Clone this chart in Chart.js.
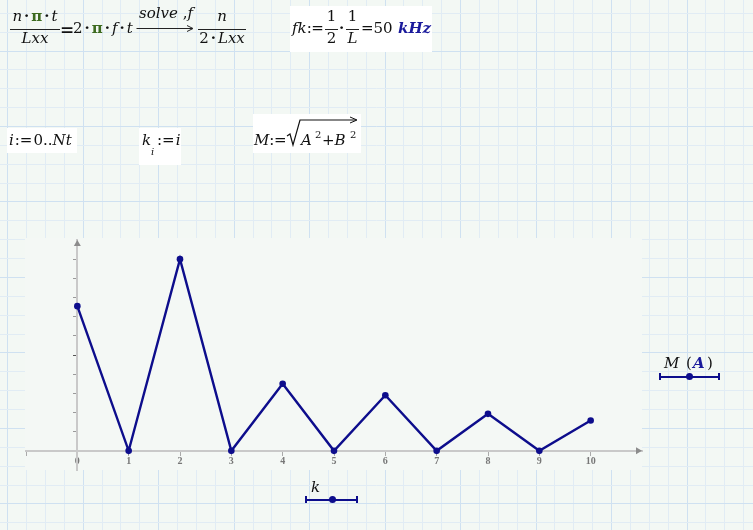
<!DOCTYPE html>
<html>
<head>
<meta charset="utf-8">
<script src="https://cdn.jsdelivr.net/npm/chart.js@4.4.1/dist/chart.umd.min.js"></script>
<style>
  html, body { margin: 0; padding: 0; }
  body { width: 753px; height: 530px; position: relative; overflow: hidden; background: #f3f8f4; }
  #c { position: absolute; left: 0; top: 0; }
  .t { position: absolute; font-family: "DejaVu Serif", serif; font-style: italic; font-size: 15px; line-height: 15px; color: #111; white-space: nowrap; }
  .c { text-align: center; }
  .up { font-style: normal; }
  .pi { color: #3d6b1f; font-style: normal; font-weight: bold; }
  .b { font-weight: bold; }
  .op { font-style: normal; margin: 0 1px; }
  .op0 { font-style: normal; letter-spacing: -0.5px; }
  .blue { color: #1a1a9c; font-weight: bold; }
  .box { position: absolute; background: #fff; }
  .bar { position: absolute; height: 1px; background: #222; }
  .ln { position: absolute; height: 2px; background: #0d0d8c; }
  .cap { position: absolute; width: 2px; height: 7px; background: #0d0d8c; }
  .dot { position: absolute; width: 7px; height: 7px; border-radius: 50%; background: #0d0d8c; }
</style>
</head>
<body>
<canvas id="c" width="753" height="530"></canvas>
<div id="math"></div>
<script>
// values
const kValues = [0, 1, 2, 3, 4, 5, 6, 7, 8, 9, 10];
const mValues = [7.55, 0, 10.0, 0, 3.5, 0, 2.9, 0, 1.93, 0, 1.58];
const xTickLabels = ['0', '1', '2', '3', '4', '5', '6', '7', '8', '9', '10'];

const NAVY = '#0d0d8c';

// 🧾 worksheet grid + plot box background
const sheetPlugin = {
    id: 'sheet',
    beforeDraw(chart) {
        const ctx = chart.ctx;
        const W = chart.width, H = chart.height;
        ctx.save();
        ctx.fillStyle = '#f3f8f4';
        ctx.fillRect(0, 0, W, H);
        const step = 18.87;
        ctx.lineWidth = 1;
        for (let i = -1; i < 45; i++) {
            const x = Math.round(7.2 + i * step) + 0.5;
            ctx.strokeStyle = (i % 4 === 0) ? '#cfe1f1' : '#e1ecf4';
            ctx.beginPath(); ctx.moveTo(x, 0); ctx.lineTo(x, H); ctx.stroke();
        }
        for (let j = -4; j < 30; j++) {
            const y = Math.round(50.5 + j * step) + 0.5;
            ctx.strokeStyle = (j % 4 === 0) ? '#cfe1f1' : '#e1ecf4';
            ctx.beginPath(); ctx.moveTo(0, y); ctx.lineTo(W, y); ctx.stroke();
        }
        const a = chart.chartArea;
        ctx.fillStyle = '#f4f8f5';
        ctx.fillRect(a.left - 1, a.top - 2, a.right - a.left + 1, a.bottom - a.top + 2);
        ctx.restore();
    },
    afterDraw(chart) {
        // axis arrow heads
        const ctx = chart.ctx;
        const xs = chart.scales.x, ys = chart.scales.y;
        const x0 = xs.getPixelForValue(0), y0 = ys.getPixelForValue(0);
        const xEnd = xs.getPixelForValue(11), yEnd = ys.getPixelForValue(11);
        ctx.save();
        ctx.fillStyle = '#8c8c8c';
        ctx.beginPath();
        ctx.moveTo(xEnd, y0); ctx.lineTo(xEnd - 6, y0 - 3.5); ctx.lineTo(xEnd - 6, y0 + 3.5);
        ctx.closePath(); ctx.fill();
        ctx.beginPath();
        ctx.moveTo(x0, yEnd); ctx.lineTo(x0 - 3.5, yEnd + 6); ctx.lineTo(x0 + 3.5, yEnd + 6);
        ctx.closePath(); ctx.fill();
        ctx.restore();
    }
};

function initChart() {
    const ctx = document.getElementById('c').getContext('2d');
    new Chart(ctx, {
        type: 'line',
        data: {
            datasets: [{
                label: 'M',
                data: kValues.map((k, i) => ({ x: k, y: mValues[i] })),
                borderColor: NAVY,
                backgroundColor: NAVY,
                borderWidth: 2.4,
                tension: 0,
                pointRadius: 3.3,
                pointBorderWidth: 0,
                pointBackgroundColor: NAVY,
                fill: false
            }]
        },
        options: {
            responsive: false,
            animation: false,
            devicePixelRatio: 1,
            layout: { padding: { left: 26, right: 111, top: 240, bottom: 60 } },
            plugins: { legend: { display: false }, tooltip: { enabled: false } },
            scales: {
                x: {
                    type: 'linear',
                    min: -1,
                    max: 11,
                    position: { y: 0 },
                    afterFit: s => { s.height = 0; },
                    border: { display: true, color: '#c9c9c9', width: 2 },
                    grid: {
                        drawOnChartArea: false,
                        drawTicks: true,
                        tickLength: 4,
                        color: c => (c.tick && c.tick.value === 11) ? 'rgba(0,0,0,0)' : '#aaaaaa'
                    },
                    ticks: {
                        stepSize: 1,
                        autoSkip: false,
                        maxRotation: 0,
                        padding: 1,
                        color: '#777777',
                        font: { family: 'Liberation Serif', size: 10, weight: 'bold' },
                        callback: v => (v >= 0 && v <= 10) ? xTickLabels[v] : ''
                    }
                },
                y: {
                    type: 'linear',
                    min: -1,
                    max: 11,
                    position: { x: 0 },
                    afterFit: s => { s.width = 0; },
                    border: { display: true, color: '#c9c9c9', width: 2 },
                    grid: {
                        drawOnChartArea: false,
                        drawTicks: true,
                        tickLength: 3,
                        color: c => (c.tick && (c.tick.value === 11 || c.tick.value === -1)) ? 'rgba(0,0,0,0)' : (c.tick && c.tick.value === 5 ? '#555555' : '#9a9a9a')
                    },
                    ticks: {
                        stepSize: 1,
                        autoSkip: false,
                        callback: () => ''
                    }
                }
            }
        },
        plugins: [sheetPlugin]
    });
}

// ✏️ math text pieces
const host = document.getElementById('math');
function el(cls, x, y, w, h, html) {
    const d = document.createElement('div');
    d.className = cls;
    d.style.left = x + 'px';
    d.style.top = y + 'px';
    if (w != null) d.style.width = w + 'px';
    if (h != null) d.style.height = h + 'px';
    if (html != null) d.innerHTML = html;
    host.appendChild(d);
    return d;
}
function txt(html, x, base, size, extra, w) {
    const s = size || 15;
    const d = el('t' + (extra ? ' ' + extra : ''), x, Math.round(base - 0.85 * s), w, null, html);
    d.style.fontSize = s + 'px';
    d.style.lineHeight = s + 'px';
    return d;
}
function svgAt(x, y, w, h, inner) {
    const svg = document.createElementNS('http://www.w3.org/2000/svg', 'svg');
    svg.setAttribute('width', w);
    svg.setAttribute('height', h);
    svg.style.position = 'absolute';
    svg.style.left = x + 'px';
    svg.style.top = y + 'px';
    svg.innerHTML = inner;
    host.appendChild(svg);
}
const DOT = '<span class="b up" style="margin:0 2px">·</span>';
const PI = '<span class="pi">π</span>';
const ASSIGN = '<span class="op">:=</span>';
const ASSIGN0 = '<span class="op0">:=</span>';

function drawMath() {
    // n·π·t / Lxx = 2·π·f·t  --solve,f-->  n / 2·Lxx
    txt('n' + DOT + PI + DOT + 't', 10, 22, 15, 'c', 50);
    el('bar', 10, 29, 50, 1);
    txt('Lxx', 10, 44, 15, 'c', 50);
    txt('<span class="b up" style="font-size:17px">=</span>', 60, 35);
    txt('<span class="up">2</span>' + DOT + PI + DOT + 'f' + DOT + 't', 73, 34);
    txt('solve<span class="up"> ,</span>f', 139, 19);
    svgAt(135, 24, 62, 9, '<path d="M1.5 4.5 L57 4.5" stroke="#222" stroke-width="1"/><path d="M52 1.5 L58 4.5 L52 7.5" fill="none" stroke="#222" stroke-width="1"/>');
    txt('n', 198, 22, 15, 'c', 48);
    el('bar', 198, 29, 48, 1);
    txt('<span class="up">2</span>' + DOT + 'Lxx', 198, 44, 15, 'c', 48);

    // fk := 1/2 · 1/L = 50 kHz
    el('box', 290, 6, 142, 46);
    txt('fk' + ASSIGN0, 292, 34);
    txt('<span class="up">1</span>', 325, 22, 15, 'c', 13);
    el('bar', 325, 29, 13, 1);
    txt('<span class="up">2</span>', 325, 44, 15, 'c', 13);
    txt(DOT, 337, 34);
    txt('<span class="up">1</span>', 346, 22, 15, 'c', 13);
    el('bar', 346, 29, 13, 1);
    txt('L', 346, 44, 15, 'c', 13);
    txt('<span class="up">=50</span>', 361, 34);
    txt('<span class="blue">kHz</span>', 398, 34);

    // i := 0..Nt
    el('box', 7, 128, 70, 25);
    txt('i' + ASSIGN + '<span class="up">0..</span>Nt', 9, 146);

    // k_i := i
    el('box', 139, 128, 42, 37);
    txt('k', 142, 146);
    txt('i', 151, 155, 10);
    txt(ASSIGN + 'i', 156, 146);

    // M := vectorize(sqrt(A^2 + B^2))
    el('box', 253, 114, 108, 39);
    txt('M' + ASSIGN0, 254, 146);
    svgAt(284, 115, 80, 34,
        '<path d="M3 21 L6 19 L9 30 L16 5 L72 5" fill="none" stroke="#111" stroke-width="1.2"/>' +
        '<path d="M66 2 L73 5 L66 8" fill="none" stroke="#111" stroke-width="1"/>');
    txt('A', 301, 146);
    txt('<span class="up">2</span>', 315, 138, 10);
    txt('<span class="up">+</span>B', 322, 146);
    txt('<span class="up">2</span>', 350, 138, 10);

    // trace labels
    txt('M', 664, 369);
    txt('<span class="up">(</span>', 686, 369);
    txt('<span class="blue">A</span>', 693, 369);
    txt('<span class="up">)</span>', 707, 369);
    el('ln', 659, 376, 61);
    el('cap', 659, 373);
    el('cap', 718, 373);
    el('dot', 686, 373);

    txt('k', 311, 493);
    el('ln', 305, 499, 53);
    el('cap', 305, 496);
    el('cap', 356, 496);
    el('dot', 329, 496);
}

window.onload = () => {
    initChart();
    drawMath();
};
</script>
</body>
</html>
